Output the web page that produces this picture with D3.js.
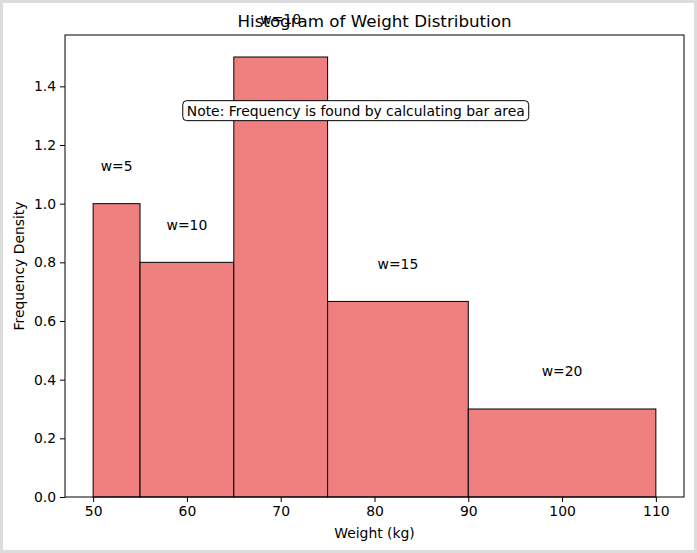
<!DOCTYPE html>
<html><head><meta charset="utf-8">
<script src="https://cdn.jsdelivr.net/npm/d3@7"></script>
<style>
html,body{margin:0;padding:0;background:#fff;}
#wrap{width:691px;height:547px;border:3px solid #dcdcdc;background:#fff;}
svg{display:block;}
text{font-family:"DejaVu Sans",sans-serif;fill:#000;}
</style></head><body><div id="wrap"></div>
<script>
const binEdges = [50, 55, 65, 75, 90, 110];
const densities = [1.0, 0.8, 1.5, 0.6667, 0.3];
const widthLabels = ["w=5", "w=10", "w=10", "w=15", "w=20"];
const xTicks = [50, 60, 70, 80, 90, 100, 110];
const yTicks = [0.0, 0.2, 0.4, 0.6, 0.8, 1.0, 1.2, 1.4];
const titleText = "Histogram of Weight Distribution";
const noteText = "Note: Frequency is found by calculating bar area";
const noteX = 78, noteY = 1.3;

const W = 691, H = 547, off = 3;
const FS = "13.9px";
const svg = d3.select("#wrap").append("svg").attr("width", W).attr("height", H);
const g = svg.append("g").attr("transform", `translate(${-off},${-off})`);
const L = 65, R = 684, T = 35, B = 497;
const x = d3.scaleLinear().domain([47, 113]).range([L, R]);
const y = d3.scaleLinear().domain([0, 1.575]).range([B, T]);

const bins = densities.map((d, i) => ({x0: binEdges[i], x1: binEdges[i+1], d, label: widthLabels[i]}));

g.selectAll("rect.bar").data(bins).enter().append("rect")
  .attr("x", d => x(d.x0)).attr("y", d => y(d.d))
  .attr("width", d => x(d.x1) - x(d.x0)).attr("height", d => y(0) - y(d.d))
  .attr("fill", "#F08080").attr("stroke", "#000").attr("stroke-width", 1);

g.selectAll("text.wl").data(bins).enter().append("text")
  .attr("x", d => x((d.x0 + d.x1) / 2)).attr("y", d => y(d.d + 0.1) - 3.5)
  .attr("text-anchor", "middle").attr("font-size", FS).text(d => d.label);

// frame
g.append("rect").attr("x", L).attr("y", T).attr("width", R - L).attr("height", B - T)
  .attr("fill", "none").attr("stroke", "#000").attr("stroke-width", 1);

const xa = g.append("g").attr("transform", `translate(0,${B})`)
  .call(d3.axisBottom(x).tickValues(xTicks).tickFormat(d3.format("d")).tickSize(5).tickPadding(4));
const ya = g.append("g").attr("transform", `translate(${L},0)`)
  .call(d3.axisLeft(y).tickValues(yTicks).tickFormat(d3.format(".1f")).tickSize(5).tickPadding(4));
[xa, ya].forEach(a => {
  a.select(".domain").remove();
  a.selectAll("text").attr("font-size", FS).attr("font-family", "DejaVu Sans, sans-serif");
  a.selectAll("line").attr("stroke", "#000");
});

// note box
const note = g.append("text").attr("x", x(noteX)).attr("y", y(noteY))
  .attr("text-anchor", "middle").attr("font-size", FS).text(noteText);
const bb = note.node().getBBox();
g.append("rect").attr("x", bb.x - 4).attr("y", bb.y - 2)
  .attr("width", bb.width + 8).attr("height", bb.height + 4).attr("rx", 4)
  .attr("fill", "#fff").attr("stroke", "#000").attr("stroke-width", 1);
note.raise();

g.append("text").attr("x", (L + R) / 2).attr("y", 27).attr("text-anchor", "middle")
  .attr("font-size", "16.7px").text(titleText);
g.append("text").attr("x", (L + R) / 2).attr("y", 538).attr("text-anchor", "middle")
  .attr("font-size", FS).text("Weight (kg)");
g.append("text").attr("transform", `translate(24,${(T + B) / 2}) rotate(-90)`).attr("text-anchor", "middle")
  .attr("font-size", FS).text("Frequency Density");
</script></body></html>
